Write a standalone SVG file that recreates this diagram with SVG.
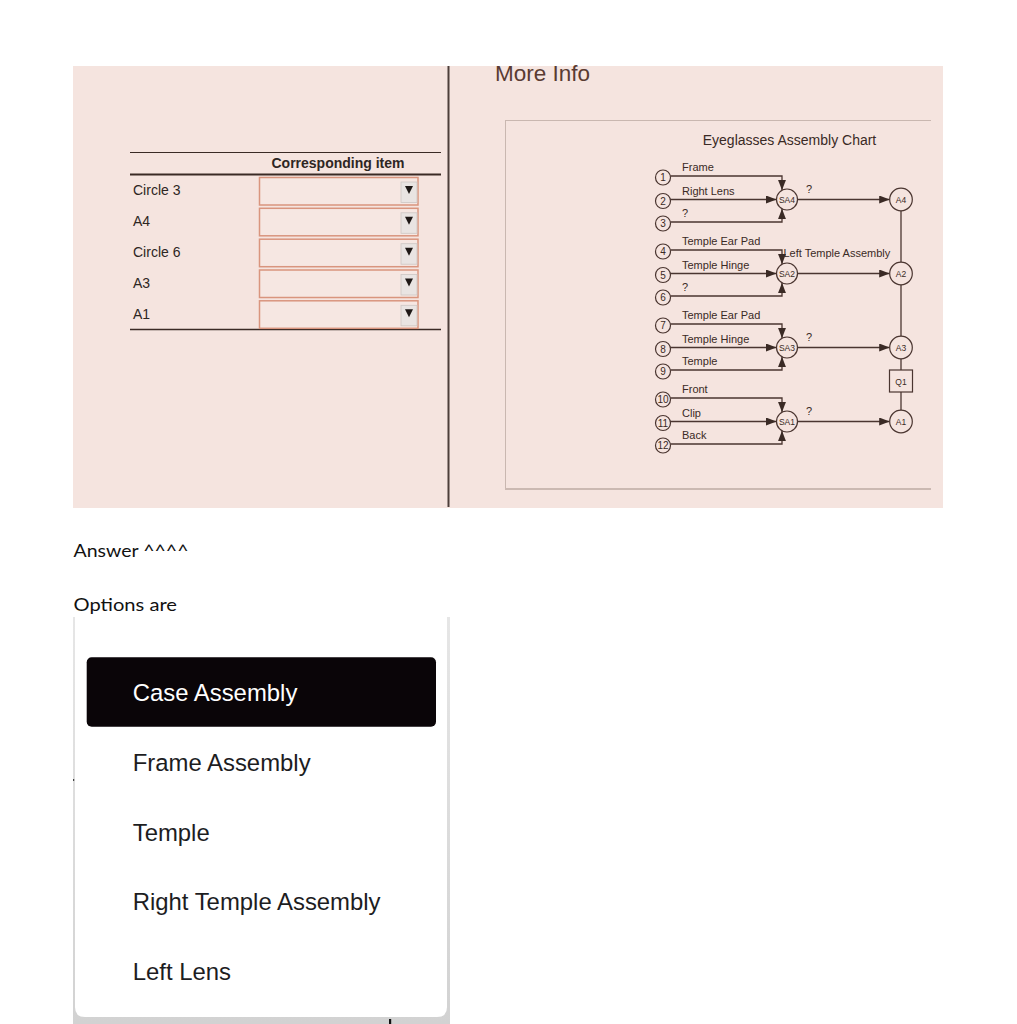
<svg xmlns="http://www.w3.org/2000/svg" width="1017" height="1024" viewBox="0 0 1017 1024">
<defs>
<style>
.ch{font-family:"Liberation Sans",Arial,sans-serif;fill:#3a2a25}
.lbl{font-size:11px}
.num{font-size:10px;text-anchor:middle}
.nd{font-size:8.5px;text-anchor:middle}
.ln{fill:none;stroke:#4a3530;stroke-width:1.3}
.arr{fill:none;stroke:#4a3530;stroke-width:1.3;marker-end:url(#ah)}
.nc{fill:#f5e4df;stroke:#4a3530;stroke-width:1.2}
.tb{font-family:"Liberation Sans",Arial,sans-serif;font-size:14px;fill:#2e2623}
.dd{fill:#f6e7e2;stroke:#d9957e;stroke-width:1.5}
.btn{fill:#e9e4e2;stroke:#cdc6c3;stroke-width:0.8}
.tri{fill:#1e1816}
.opt{font-family:"Liberation Sans",Arial,sans-serif;font-size:23.9px;fill:#1d1d1f}
.doc{font-family:Lato,"Open Sans",sans-serif;font-size:18px;fill:#111}
</style>
<marker id="ah" markerUnits="userSpaceOnUse" markerWidth="11" markerHeight="9" refX="10.5" refY="4" orient="auto">
<path d="M0,0 L10.5,4 L0,8 Z" fill="#3a2a25"/>
</marker>
<linearGradient id="sh" x1="0" y1="0" x2="0" y2="1">
<stop offset="0" stop-color="#e6e6e6"/>
<stop offset="1" stop-color="#d2d2d2"/>
</linearGradient>
</defs>
<rect width="1017" height="1024" fill="#ffffff"/>
<g id="panel">
<rect x="73" y="66" width="870" height="442" fill="#f5e4df"/>
<line x1="448.5" y1="66" x2="448.5" y2="507" stroke="#4d3e3a" stroke-width="2"/>
<text x="495" y="81" font-family="Liberation Sans,Arial,sans-serif" font-size="22.5" fill="#5a3b32">More Info</text>
</g>
<g id="table">
<line x1="130" y1="152.5" x2="441" y2="152.5" stroke="#3a2a25" stroke-width="1.2"/>
<text x="338" y="168" class="tb" font-weight="bold" text-anchor="middle">Corresponding item</text>
<line x1="130" y1="174.5" x2="441" y2="174.5" stroke="#3a2a25" stroke-width="2"/>
<line x1="130" y1="329.5" x2="441" y2="329.5" stroke="#3a2a25" stroke-width="1.5"/>
<g id="row1"><text x="133" y="195" class="tb">Circle 3</text><rect x="259.5" y="177.5" width="158.5" height="27.5" class="dd"/><rect x="401" y="182" width="16" height="20.5" class="btn"/><path d="M405,186 L413,186 L409,194 Z" class="tri"/></g>
<g id="row2"><text x="133" y="226" class="tb">A4</text><rect x="259.5" y="208.3" width="158.5" height="27.5" class="dd"/><rect x="401" y="212.8" width="16" height="20.5" class="btn"/><path d="M405,216.8 L413,216.8 L409,224.8 Z" class="tri"/></g>
<g id="row3"><text x="133" y="257" class="tb">Circle 6</text><rect x="259.5" y="239.2" width="158.5" height="27.5" class="dd"/><rect x="401" y="243.7" width="16" height="20.5" class="btn"/><path d="M405,247.7 L413,247.7 L409,255.7 Z" class="tri"/></g>
<g id="row4"><text x="133" y="288" class="tb">A3</text><rect x="259.5" y="270" width="158.5" height="27.5" class="dd"/><rect x="401" y="274.5" width="16" height="20.5" class="btn"/><path d="M405,278.5 L413,278.5 L409,286.5 Z" class="tri"/></g>
<g id="row5"><text x="133" y="319" class="tb">A1</text><rect x="259.5" y="300.8" width="158.5" height="27.5" class="dd"/><rect x="401" y="305.3" width="16" height="20.5" class="btn"/><path d="M405,309.3 L413,309.3 L409,317.3 Z" class="tri"/></g>
</g>
<g id="chart-frame">
<line x1="505" y1="120.5" x2="931" y2="120.5" stroke="#c9b7b0" stroke-width="1"/>
<line x1="505.5" y1="120" x2="505.5" y2="489" stroke="#c9b7b0" stroke-width="1"/>
<line x1="505" y1="489" x2="931" y2="489" stroke="#cbb9b2" stroke-width="2"/>
<text x="789.5" y="145" class="ch" font-size="14" text-anchor="middle">Eyeglasses Assembly Chart</text>
</g>
<g id="connectors">
<polyline class="arr" points="670,176 782,176 782,190.3"/>
<line class="arr" x1="670" y1="199.5" x2="776.5" y2="199.5"/>
<polyline class="arr" points="670,222 782,222 782,208.7"/>
<polyline class="arr" points="670,250 782,250 782,264.3"/>
<line class="arr" x1="670" y1="273.5" x2="776.5" y2="273.5"/>
<polyline class="arr" points="670,296 782,296 782,282.7"/>
<polyline class="arr" points="670,324 782,324 782,338.3"/>
<line class="arr" x1="670" y1="347.5" x2="776.5" y2="347.5"/>
<polyline class="arr" points="670,370 782,370 782,356.7"/>
<polyline class="arr" points="670,398 782,398 782,412.3"/>
<line class="arr" x1="670" y1="421.5" x2="776.5" y2="421.5"/>
<polyline class="arr" points="670,444 782,444 782,430.7"/>
<line class="arr" x1="797.5" y1="199.5" x2="889.7" y2="199.5"/>
<line class="arr" x1="797.5" y1="273.5" x2="889.7" y2="273.5"/>
<line class="arr" x1="797.5" y1="347.5" x2="889.7" y2="347.5"/>
<line class="arr" x1="797.5" y1="421.5" x2="889.7" y2="421.5"/>
<line class="ln" x1="901" y1="210.8" x2="901" y2="262.2"/>
<line class="ln" x1="901" y1="284.8" x2="901" y2="336.2"/>
<line class="ln" x1="901" y1="358.8" x2="901" y2="370"/>
<line class="ln" x1="901" y1="392" x2="901" y2="410.2"/>
</g>
<g id="labels" class="ch lbl">
<text x="682" y="171">Frame</text>
<text x="682" y="194.5">Right Lens</text>
<text x="682" y="217">?</text>
<text x="682" y="245">Temple Ear Pad</text>
<text x="682" y="268.5">Temple Hinge</text>
<text x="682" y="291">?</text>
<text x="682" y="319">Temple Ear Pad</text>
<text x="682" y="342.5">Temple Hinge</text>
<text x="682" y="365">Temple</text>
<text x="682" y="393">Front</text>
<text x="682" y="416.5">Clip</text>
<text x="682" y="439">Back</text>
<text x="806" y="193">?</text>
<text x="783.5" y="256.7">Left Temple Assembly</text>
<text x="806" y="341">?</text>
<text x="806" y="415">?</text>
</g>
<g id="n1"><circle class="nc" cx="663" cy="177.5" r="7.5"/><text class="ch num" x="663" y="181">1</text></g>
<g id="n2"><circle class="nc" cx="663" cy="201" r="7.5"/><text class="ch num" x="663" y="204.5">2</text></g>
<g id="n3"><circle class="nc" cx="663" cy="223.5" r="7.5"/><text class="ch num" x="663" y="227">3</text></g>
<g id="n4"><circle class="nc" cx="663" cy="251.5" r="7.5"/><text class="ch num" x="663" y="255">4</text></g>
<g id="n5"><circle class="nc" cx="663" cy="275" r="7.5"/><text class="ch num" x="663" y="278.5">5</text></g>
<g id="n6"><circle class="nc" cx="663" cy="297.5" r="7.5"/><text class="ch num" x="663" y="301">6</text></g>
<g id="n7"><circle class="nc" cx="663" cy="325.5" r="7.5"/><text class="ch num" x="663" y="329">7</text></g>
<g id="n8"><circle class="nc" cx="663" cy="349" r="7.5"/><text class="ch num" x="663" y="352.5">8</text></g>
<g id="n9"><circle class="nc" cx="663" cy="371.5" r="7.5"/><text class="ch num" x="663" y="375">9</text></g>
<g id="n10"><circle class="nc" cx="663" cy="399.5" r="7.5"/><text class="ch num" x="663" y="403">10</text></g>
<g id="n11"><circle class="nc" cx="663" cy="423" r="7.5"/><text class="ch num" x="663" y="426.5">11</text></g>
<g id="n12"><circle class="nc" cx="663" cy="445.5" r="7.5"/><text class="ch num" x="663" y="449">12</text></g>
<g id="SA4"><circle class="nc" cx="787" cy="199.5" r="10.5"/><text class="ch nd" x="787" y="202.5">SA4</text></g>
<g id="SA2"><circle class="nc" cx="787" cy="273.5" r="10.5"/><text class="ch nd" x="787" y="276.5">SA2</text></g>
<g id="SA3"><circle class="nc" cx="787" cy="347.5" r="10.5"/><text class="ch nd" x="787" y="350.5">SA3</text></g>
<g id="SA1"><circle class="nc" cx="787" cy="421.5" r="10.5"/><text class="ch nd" x="787" y="424.5">SA1</text></g>
<g id="A4"><circle class="nc" cx="901" cy="199.5" r="11.3"/><text class="ch nd" x="901" y="202.5">A4</text></g>
<g id="A2"><circle class="nc" cx="901" cy="273.5" r="11.3"/><text class="ch nd" x="901" y="276.5">A2</text></g>
<g id="A3"><circle class="nc" cx="901" cy="347.5" r="11.3"/><text class="ch nd" x="901" y="350.5">A3</text></g>
<g id="A1"><circle class="nc" cx="901" cy="421.5" r="11.3"/><text class="ch nd" x="901" y="424.5">A1</text></g>
<g id="Q1"><rect x="889.5" y="370" width="23" height="22" fill="#f5e4df" stroke="#4a3530" stroke-width="1.2"/><text class="ch nd" x="901" y="384.5">Q1</text></g>
<g id="doc-text">
<text x="73.5" y="557" class="doc" textLength="115" lengthAdjust="spacingAndGlyphs">Answer ^^^^</text>
<text x="73.5" y="611" class="doc" textLength="103.5" lengthAdjust="spacingAndGlyphs">Options are</text>
</g>
<g id="options">
<rect x="73" y="617" width="377" height="407" fill="url(#sh)"/>
<path d="M75,617 H447 V1007 Q447,1017 437,1017 H85 Q75,1017 75,1007 Z" fill="#ffffff"/>
<rect x="389" y="1019" width="2.2" height="5" fill="#111"/>
<rect x="73" y="779" width="1.2" height="2" fill="#444"/>
<rect x="86.7" y="657.3" width="349.3" height="69.4" rx="5" fill="#0a0508"/>
<text x="132.7" y="701" class="opt" style="fill:#ffffff">Case Assembly</text>
<text x="132.7" y="771" class="opt">Frame Assembly</text>
<text x="132.7" y="840.5" class="opt">Temple</text>
<text x="132.7" y="910" class="opt">Right Temple Assembly</text>
<text x="132.7" y="979.5" class="opt">Left Lens</text>
</g>
</svg>
